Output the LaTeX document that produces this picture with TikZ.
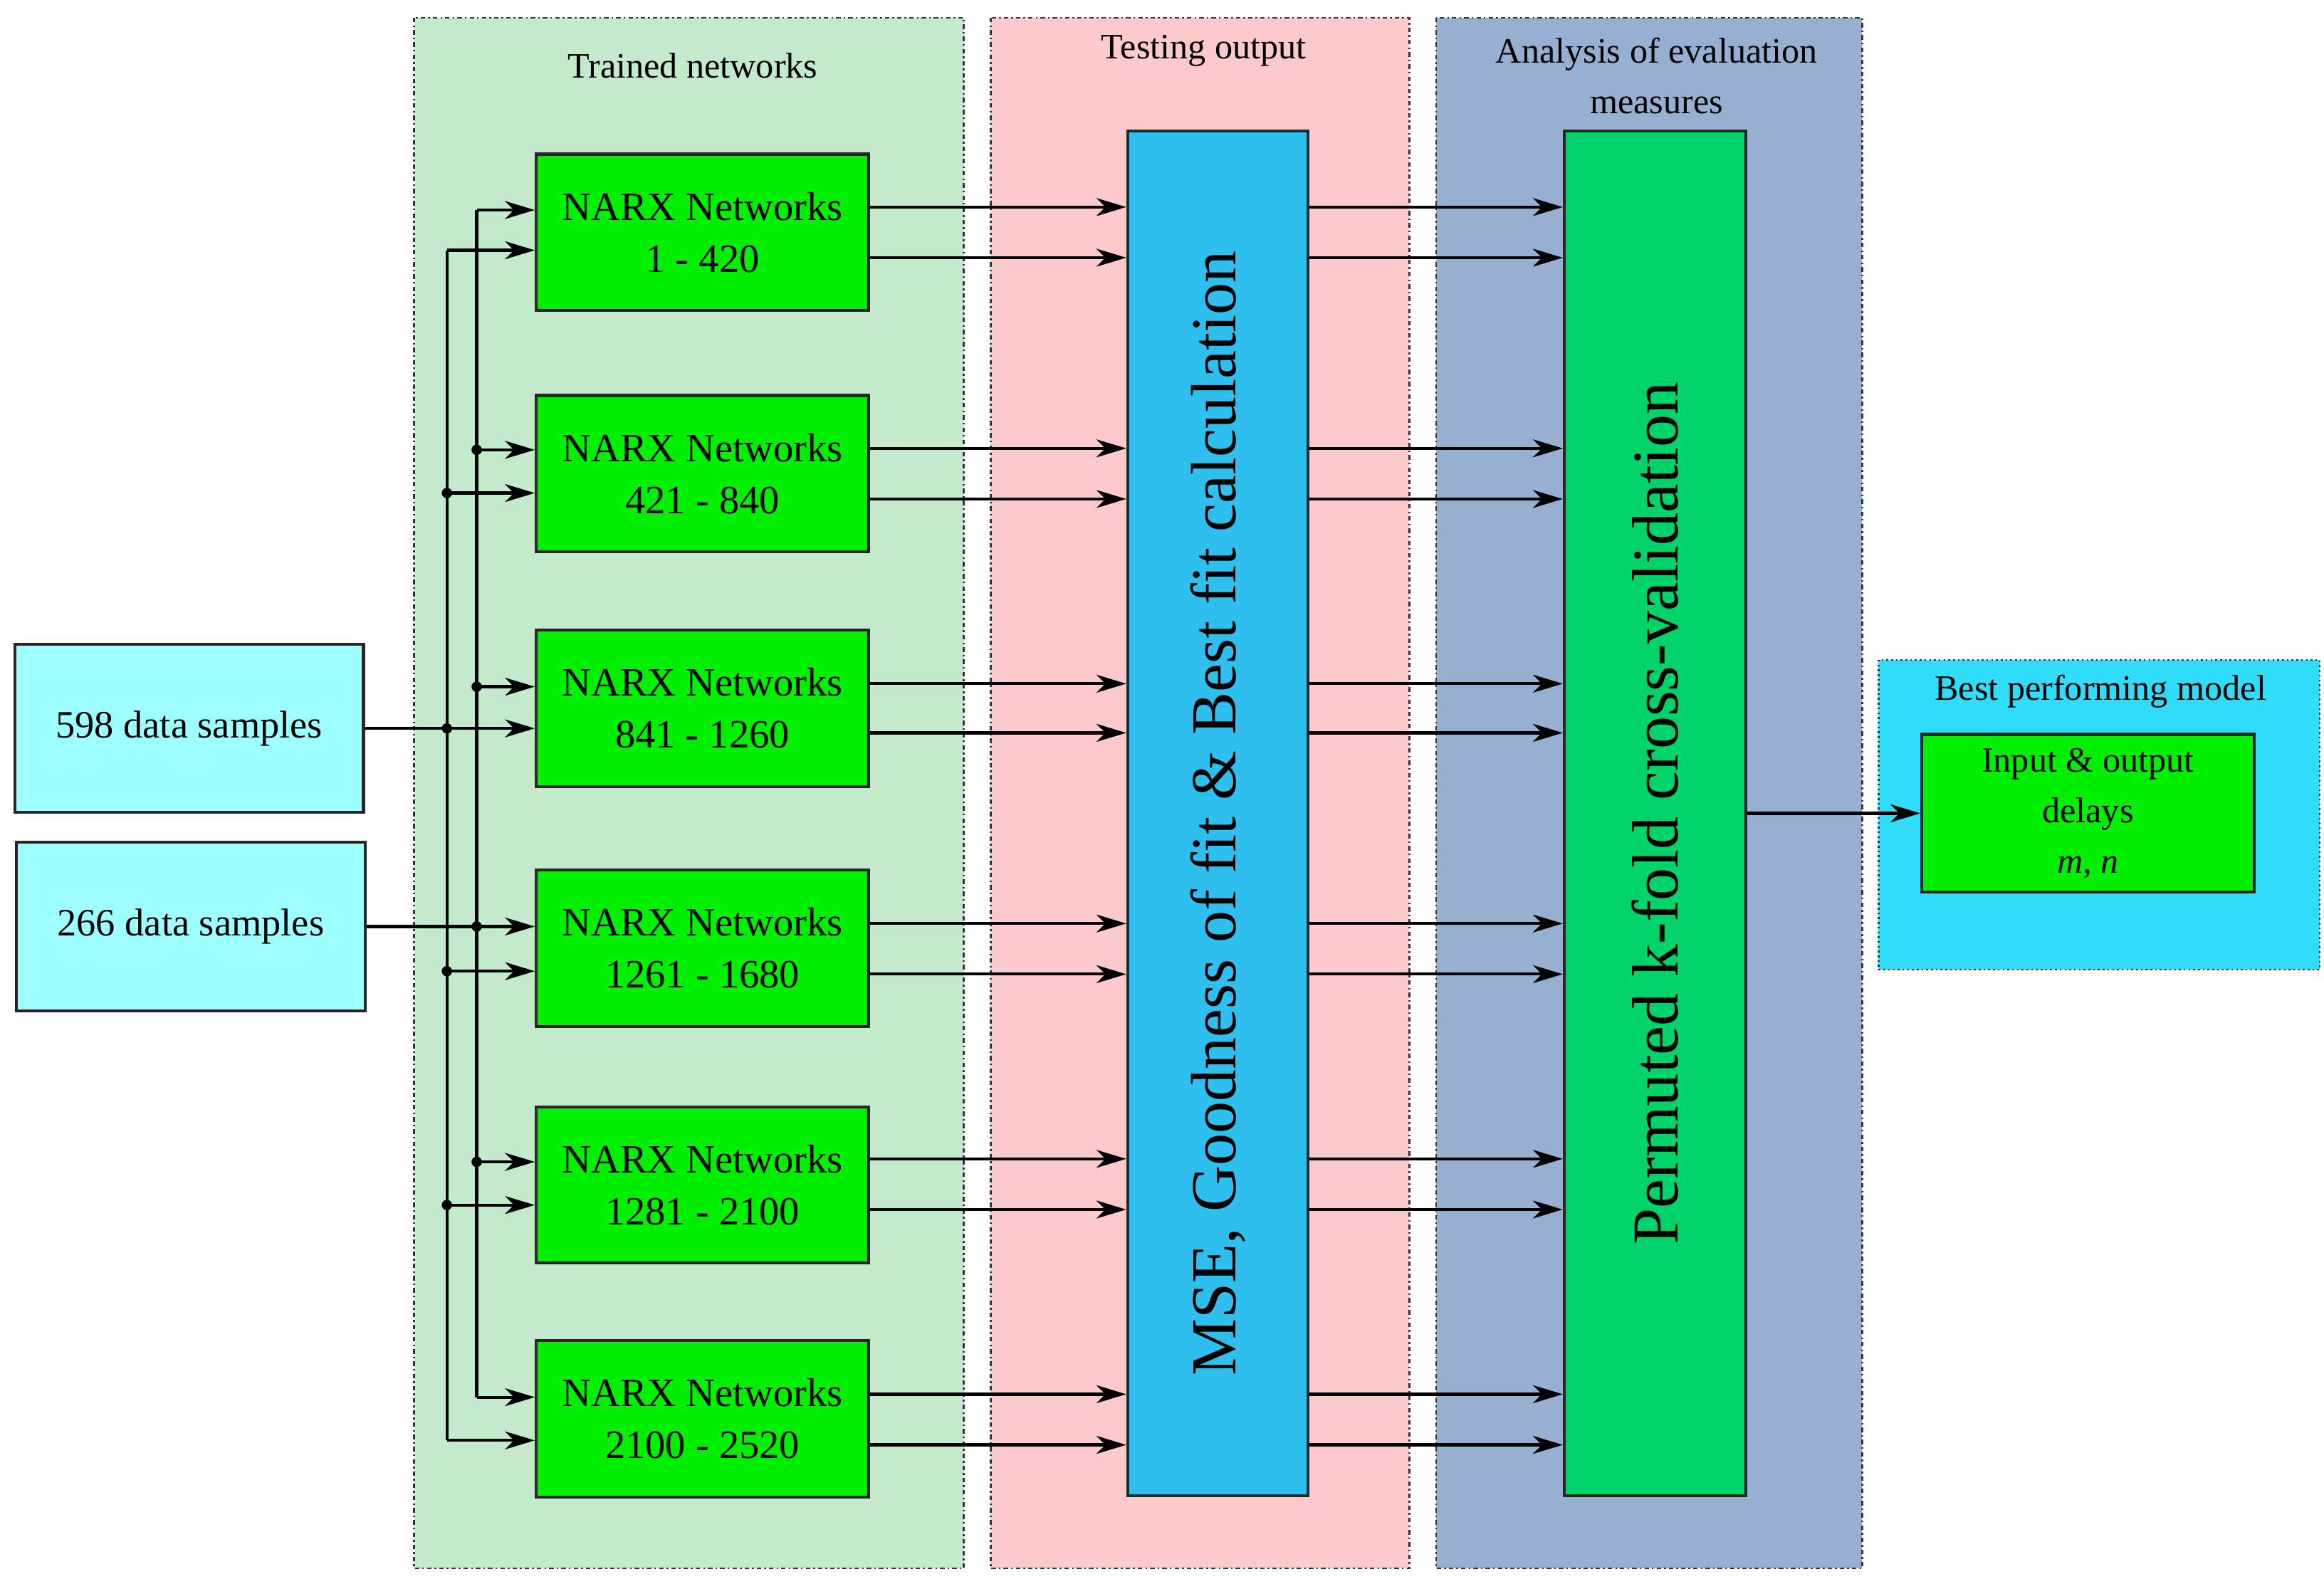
\documentclass[tikz,border=0pt]{standalone}
\usepackage{fontspec}
\setmainfont{Liberation Serif}
\usetikzlibrary{arrows.meta}
\definecolor{pgreen}{HTML}{C4EACC}
\definecolor{ppink}{HTML}{FDCACC}
\definecolor{pblue}{HTML}{97B0D2}
\definecolor{pcyan}{HTML}{2FDCFA}
\definecolor{ngreen}{HTML}{00F000}
\definecolor{incyan}{HTML}{9EFFFF}
\definecolor{mseblue}{HTML}{2FBFEF}
\definecolor{kgreen}{HTML}{00D36A}
\tikzset{
 panel/.style={draw=black!80, line width=1.2pt, dash dot},
 box/.style={draw=black!85, line width=2pt},
 narx/.style={box, fill=ngreen, minimum width=223pt, minimum height=105pt, align=center, font=\fontsize{27}{35}\selectfont},
 inp/.style={box, fill=incyan, minimum width=234pt, minimum height=113pt, font=\fontsize{26}{30}\selectfont},
 title/.style={font=\fontsize{24}{34}\selectfont, align=center},
 arr/.style={line width=2pt, -{Stealth[length=20pt,width=12pt,inset=6pt]}},
 ln/.style={line width=2pt},
 dot/.style={circle, fill=black, inner sep=0pt, minimum size=7pt}
}
\begin{document}
\begin{tikzpicture}[x=1pt,y=-1pt]
\useasboundingbox (0,0) rectangle (1560,1060);
\fill[white] (0,0) rectangle (1560,1060);
% panels
\draw[panel, fill=pgreen] (278,12) rectangle (647,1053);
\draw[panel, fill=ppink] (665,12) rectangle (946,1053);
\draw[panel, fill=pblue] (964,12) rectangle (1250,1053);
\draw[panel, dotted, fill=pcyan] (1261,443) rectangle (1557,651);
\node[title] (t1) at (465,44) {Trained networks};
\node[title] (t2) at (808,34) {Testing output};
\node[title] (t3) at (1112,51) {Analysis of evaluation\\measures};
\node[title] (t4) at (1410,464) {Best performing model};
% inputs
\node[inp] (i1) at (127,489) {598 data samples};
\node[inp] (i2) at (128,622) {266 data samples};
% narx
\foreach \i/\y/\t in {1/156/1 - 420, 2/318/421 - 840, 3/475.5/841 - 1260, 4/636.5/1261 - 1680, 5/795.5/1281 - 2100, 6/952.5/2100 - 2520}{
  \node[narx] (n\i) at (471.5,\y) {NARX Networks\\\t};
}
% big boxes
\node[box, fill=mseblue, minimum width=121pt, minimum height=916pt] (mse) at (817.5,546) {};
\node[rotate=90, font=\fontsize{43}{48}\selectfont] (mset) at (mse.center) {MSE, Goodness of fit \& Best fit calculation};
\node[box, fill=kgreen, minimum width=122pt, minimum height=916pt] (kf) at (1111,546) {};
\node[rotate=90, font=\fontsize{44}{48}\selectfont] (kft) at (kf.center) {Permuted k-fold cross-validation};
\node[narx, minimum width=223pt, minimum height=106pt, font=\fontsize{24}{34}\selectfont] (best) at (1401.5,546) {Input \& output\\delays\\\textit{m, n}};
% bus coordinates
\coordinate (ob1) at (300,168); \coordinate (ob6) at (300,967);
\coordinate (ib1) at (320,141); \coordinate (ib6) at (320,938);
\draw[ln] (ob6) -- (ob1); \draw[ln] (ib6) -- (ib1);
\draw[ln] (i1.east) -- (300,489);
\draw[ln] (i2.east) -- (320,622);
\foreach \i/\u/\l in {1/141/168, 2/302/331, 3/461/489, 4/622/652, 5/780/809, 6/938/967}{
  \draw[arr] (320,\u) -- (n\i.west |- 0,\u);
  \draw[arr] (300,\l) -- (n\i.west |- 0,\l);
}
\foreach \y in {302,461,622,780}{ \node[dot] (di\y) at (320,\y) {}; }
\foreach \y in {331,489,652,809}{ \node[dot] (do\y) at (300,\y) {}; }
\foreach \i/\a/\b in {1/139/173, 2/301/335, 3/459/492, 4/620/654, 5/778/812, 6/936/970}{
  \draw[arr] (n\i.east |- 0,\a) -- (mse.west |- 0,\a);
  \draw[arr] (n\i.east |- 0,\b) -- (mse.west |- 0,\b);
  \draw[arr] (mse.east |- 0,\a) -- (kf.west |- 0,\a);
  \draw[arr] (mse.east |- 0,\b) -- (kf.west |- 0,\b);
}
\draw[arr] (kf.east |- best) -- (best.west);
\end{tikzpicture}
\end{document}
